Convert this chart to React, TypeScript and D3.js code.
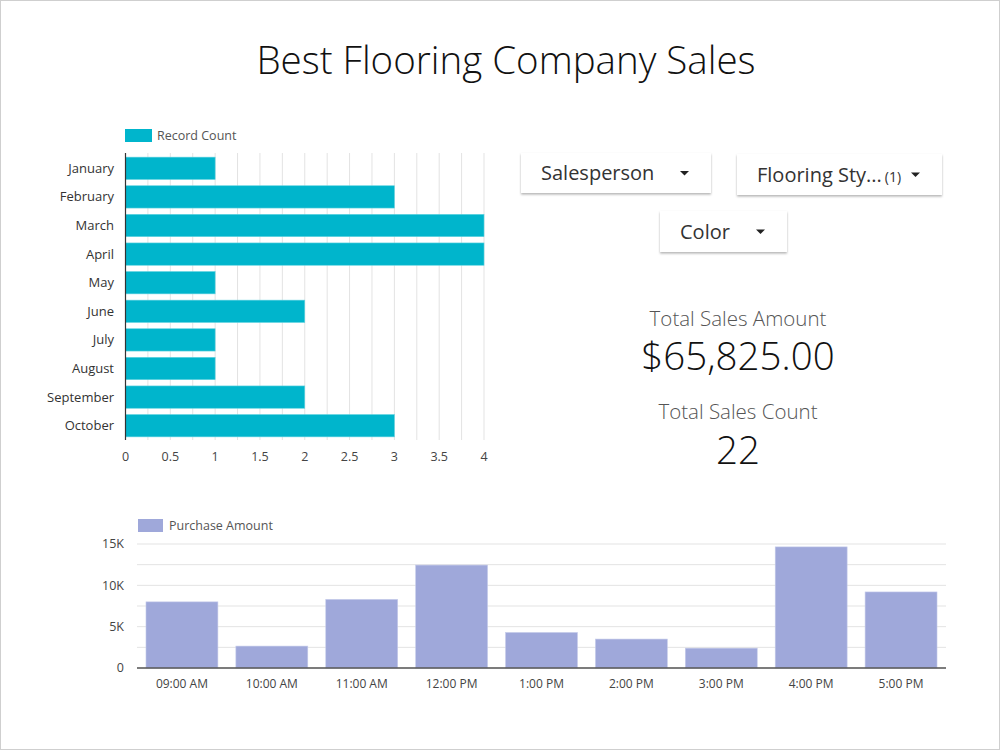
import * as d3 from "d3";

// top bar chart: record count per month
const months = ["January", "February", "March", "April", "May", "June", "July", "August", "September", "October"];
const recordCounts = [1, 3, 4, 4, 1, 2, 1, 1, 2, 3];
const countTicks = [0, 0.5, 1, 1.5, 2, 2.5, 3, 3.5, 4];

// bottom column chart: purchase amount per hour
const hours = ["09:00 AM", "10:00 AM", "11:00 AM", "12:00 PM", "1:00 PM", "2:00 PM", "3:00 PM", "4:00 PM", "5:00 PM"];
const purchaseAmounts = [8000, 2650, 8300, 12450, 4300, 3500, 2400, 14650, 9200];
const amountTicks = [0, 5000, 10000, 15000];

// controls and scorecards
const filters = [
  { label: "Salesperson", count: "", x: 521, y: 153, w: 190, h: 40 },
  { label: "Flooring Sty...", count: "(1)", x: 737, y: 154, w: 205, h: 41 },
  { label: "Color", count: "", x: 660, y: 211, w: 127, h: 41 },
];
const scorecards = [
  { label: "Total Sales Amount", value: "$65,825.00" },
  { label: "Total Sales Count", value: "22" },
];

const FONT = "'Open Sans', Lato, sans-serif";

export default function App() {
  const width = 1000;
  const height = 750;

  // top chart scales
  const x = d3.scaleLinear().domain([0, 4]).range([125.5, 484]);
  const y = d3.scaleBand().domain(months).range([154, 440]).paddingInner(0.22).paddingOuter(0.11);
  const gridTop = d3.range(0, 4.01, 0.25);

  // bottom chart scales
  const bx = d3.scaleBand().domain(hours).range([137, 946]).paddingInner(0.2).paddingOuter(0.1);
  const by = d3.scaleLinear().domain([0, 15000]).range([668, 544]);
  const gridBottom = d3.range(0, 15001, 2500);
  const fmtK = (v: number) => (v === 0 ? "0" : `${v / 1000}K`);

  return (
    <svg
      width={width}
      height={height}
      viewBox={`0 0 ${width} ${height}`}
      style={{ position: "absolute", left: 0, top: 0, display: "block", fontFamily: FONT }}
    >
      <defs>
        <filter id="shadow" x="-10%" y="-20%" width="120%" height="160%">
          <feDropShadow dx="0" dy="1.5" stdDeviation="1.2" floodColor="#000" floodOpacity={0.3} />
        </filter>
      </defs>
      <rect x={0.5} y={0.5} width={width - 1} height={height - 1} fill="#fff" stroke="#cfcfcf" />

      <text x={506} y={61} dy="0.35em" textAnchor="middle" fontSize={38.5} fontWeight={300} fill="#111">
        Best Flooring Company Sales
      </text>

      {/* top bar chart */}
      <rect x={125} y={129} width={27} height={13} fill="#00B5CC" />
      <text x={157} y={136} dy="0.35em" fontSize={12.5} fill="#555">Record Count</text>
      {gridTop.map(t => (
        <line key={t} x1={x(t)} x2={x(t)} y1={153} y2={440} stroke="#e3e3e3" />
      ))}
      {months.map((m, i) => (
        <g key={m}>
          <rect
            x={x(0)}
            y={y(m)}
            width={x(recordCounts[i]) - x(0)}
            height={y.bandwidth()}
            fill="#00B5CC"
            stroke="#5fd3e0"
            strokeWidth={0.6}
          />
          <text
            x={114}
            y={(y(m) ?? 0) + y.bandwidth() / 2}
            dy="0.35em"
            textAnchor="end"
            fontSize={13}
            fill="#333"
          >
            {m}
          </text>
        </g>
      ))}
      <line x1={x(0)} x2={x(0)} y1={153} y2={440} stroke="#333" strokeWidth={1.2} />
      {countTicks.map(t => (
        <text key={t} x={x(t)} y={457} dy="0.35em" textAnchor="middle" fontSize={12.5} fill="#444">
          {t}
        </text>
      ))}

      {/* filter controls */}
      {filters.map(f => (
        <g key={f.label}>
          <rect x={f.x} y={f.y} width={f.w} height={f.h} fill="#fff" filter="url(#shadow)" />
          <text x={f.x + 20} y={f.y + f.h / 2} dy="0.35em" fontSize={20} fill="#333">
            {f.label}
            {f.count && (
              <tspan fontSize={14} dx={3}>{f.count}</tspan>
            )}
          </text>
          <path
            d={`M${f.x + f.w - 31},${f.y + f.h / 2 - 2} l9,0 l-4.5,4.5 z`}
            fill="#222"
          />
        </g>
      ))}

      {/* scorecards */}
      {scorecards.map((s, i) => (
        <g key={s.label}>
          <text x={738} y={319 + i * 93} dy="0.35em" textAnchor="middle" fontSize={20.5} fontWeight={300} fill="#555">
            {s.label}
          </text>
          <text x={738} y={357 + i * 94} dy="0.35em" textAnchor="middle" fontSize={38.5} fontWeight={300} fill="#111">
            {s.value}
          </text>
        </g>
      ))}

      {/* bottom column chart */}
      <rect x={138} y={519} width={25} height={13} fill="#9FA8DA" />
      <text x={169} y={526} dy="0.35em" fontSize={12.5} fill="#555">Purchase Amount</text>
      {gridBottom.map(t => (
        <line key={t} x1={137} x2={946} y1={by(t)} y2={by(t)} stroke="#e3e3e3" />
      ))}
      {amountTicks.map(t => (
        <text key={t} x={124} y={by(t)} dy="0.35em" textAnchor="end" fontSize={12.5} fill="#444">
          {fmtK(t)}
        </text>
      ))}
      {hours.map((h, i) => (
        <g key={h}>
          <rect
            x={bx(h)}
            y={by(purchaseAmounts[i])}
            width={bx.bandwidth()}
            height={by(0) - by(purchaseAmounts[i])}
            fill="#9FA8DA"
            stroke="#c5cbea"
            strokeWidth={0.6}
          />
          <text
            x={(bx(h) ?? 0) + bx.bandwidth() / 2}
            y={684}
            dy="0.35em"
            textAnchor="middle"
            fontSize={12}
            fill="#444"
          >
            {h}
          </text>
        </g>
      ))}
      <line x1={137} x2={946} y1={by(0)} y2={by(0)} stroke="#555" strokeWidth={1.4} />
    </svg>
  );
}
